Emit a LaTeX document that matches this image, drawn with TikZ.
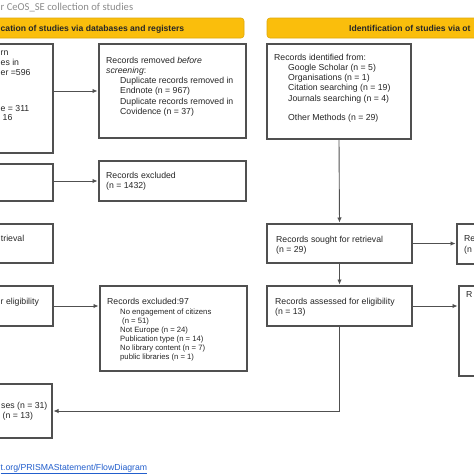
\documentclass[tikz,border=0pt]{standalone}
\usepackage{fontspec}
\setmainfont{Liberation Sans}
\newfontfamily\titlefont{Carlito}
\usetikzlibrary{arrows.meta}
\definecolor{bordc}{RGB}{80,80,80}
\definecolor{bannerfill}{RGB}{250,190,12}
\definecolor{bannerdraw}{RGB}{222,168,10}
\definecolor{titlegray}{RGB}{140,140,140}
\definecolor{linkblue}{RGB}{35,95,205}
\begin{document}
\begin{tikzpicture}[x=1pt,y=-1pt,
  bx/.style={draw=bordc, line width=1.1pt, rectangle, inner sep=0pt, outer sep=0pt, anchor=north west},
  bannerbox/.style={fill=bannerfill, draw=bannerdraw, line width=0.6pt, rounded corners=3pt, rectangle, inner sep=0pt, outer sep=0pt, anchor=north west, minimum height=20pt},
  bantext/.style={inner sep=0pt, font=\fontsize{8.6}{10}\selectfont\bfseries, text=black!85},
  txt/.style={inner sep=0pt, anchor=north west, align=left, font=\fontsize{8.7}{10.2}\selectfont, text=black!85},
  small/.style={inner sep=0pt, anchor=north west, align=left, font=\fontsize{7.7}{9}\selectfont, text=black!85},
  frag/.style={inner sep=0pt, anchor=base west, font=\fontsize{8.7}{10}\selectfont, text=black!85},
  arr/.style={draw=bordc, line width=0.9pt, -{Latex[length=5pt,width=4.5pt]}, shorten >=1.5pt},
  conn/.style={draw=bordc, line width=0.9pt}
]
\useasboundingbox (0,0) rectangle (474,474);
\fill[white] (0,0) rectangle (474,474);
\clip (0,0) rectangle (474,474);

% title
\node[inner sep=0pt, anchor=base west, font=\titlefont\fontsize{10.6}{12}\selectfont, text=titlegray] (title) at (0.5,10) {r CeOS\_SE collection of studies};

% banners
\node[bannerbox, minimum width=324pt] (banL) at (-80,18) {};
\node[bannerbox, minimum width=260pt] (banR) at (267,18) {};
\node[bantext, anchor=base west] (banLt) at (0.5,31) {cation of studies via databases and registers};
\node[bantext, anchor=base west] (banRt) at (349,31) {Identification of studies via ot};

% left column (cut off)
\node[bx, minimum width=153pt, minimum height=109pt] (box1) at (-100,44) {};
\node[bx, minimum width=153pt, minimum height=37pt] (scr) at (-100,164) {};
\node[bx, minimum width=153pt, minimum height=39pt] (ret) at (-100,224) {};
\node[bx, minimum width=153pt, minimum height=40pt] (elig) at (-100,286) {};
\node[bx, minimum width=152pt, minimum height=54pt] (incl) at (-100,384) {};

\node[frag] (f1) at (0.5,55) {rn};
\node[frag] (f2) at (0.5,65) {es in};
\node[frag] (f3) at (0.5,75) {er =596};
\node[frag] (f4) at (0.5,111) {e = 311};
\node[frag] (f5) at (2.5,120) {16};
\node[frag] (f6) at (0.8,241) {trieval};
\node[frag] (f7) at (0.5,304) {r eligibility};
\node[frag] (f8) at (1,408) {ses (n = 31)};
\node[frag] (f9) at (2.5,418) {(n = 13)};

% middle column
\node[bx, minimum width=147pt, minimum height=94pt] (rem) at (99,44) {};
\node[txt] (remt) at (106,56.7) {Records removed \textit{before}\\\textit{screening}:\\\hspace{14pt}Duplicate records removed in\\\hspace{14pt}Endnote (n = 967)\\\hspace{14pt}Duplicate records removed in\\\hspace{14pt}Covidence (n = 37)};

\node[bx, minimum width=147pt, minimum height=40pt] (exc) at (99,161) {};
\node[txt] (exct) at (106,171.7) {Records excluded\\(n = 1432)};

\node[bx, minimum width=147pt, minimum height=85pt] (ex97) at (100,286) {};
\node[inner sep=0pt, anchor=base west, font=\fontsize{8.7}{10}\selectfont, text=black!85] (ex97h) at (107,304) {Records excluded:97};
\node[small] (ex97t) at (120,308.4) {No engagement of citizens\\\hspace{2pt}(n = 51)\\Not Europe (n = 24)\\Publication type (n = 14)\\No library content (n = 7)\\public libraries (n = 1)};

% right column
\node[bx, minimum width=144pt, minimum height=95pt] (ident) at (267,44) {};
\node[txt] (identt) at (274,53.7) {Records identified from:\\\hspace{14pt}Google Scholar (n = 5)\\\hspace{14pt}Organisations (n = 1)\\\hspace{14pt}Citation searching (n = 19)\\\hspace{14pt}Journals searching (n = 4)\\[9pt]\hspace{14pt}Other Methods (n = 29)};

\node[bx, minimum width=145pt, minimum height=39pt] (sought) at (267,224) {};
\node[txt] (soughtt) at (276,235.7) {Records sought for retrieval\\(n = 29)};

\node[bx, minimum width=145pt, minimum height=40pt] (assess) at (267,286) {};
\node[txt] (assesst) at (275,297.7) {Records assessed for eligibility\\(n = 13)};

\node[bx, minimum width=100pt, minimum height=40pt] (rb1) at (457,224) {};
\node[txt] (rb1t) at (464,235.7) {Re\\(n};
\node[bx, minimum width=100pt, minimum height=90pt] (rb2) at (459,286) {};
\node[txt] (rb2t) at (466,291.7) {R};

% link
\node[inner sep=0pt, anchor=base west, font=\fontsize{8.7}{10}\selectfont, text=linkblue] (link) at (0.5,470) {\underline{t.org/PRISMAStatement/FlowDiagram}};

% connectors
\draw[arr] (box1.east |- rem.west) -- (rem.west);
\draw[arr] (scr.east |- exc.west) -- (exc.west);
\draw[arr] (elig.east) -- (elig.east -| ex97.west);
\draw[arr] (ident.south) -- (sought.north);
\draw[arr] (sought.south) -- (assess.north);
\draw[arr] (sought.east) -- (sought.east -| rb1.west);
\draw[arr] (assess.east) -- (assess.east -| rb2.west);
\draw[arr] (assess.south) |- (incl.east);
\end{tikzpicture}
\end{document}
